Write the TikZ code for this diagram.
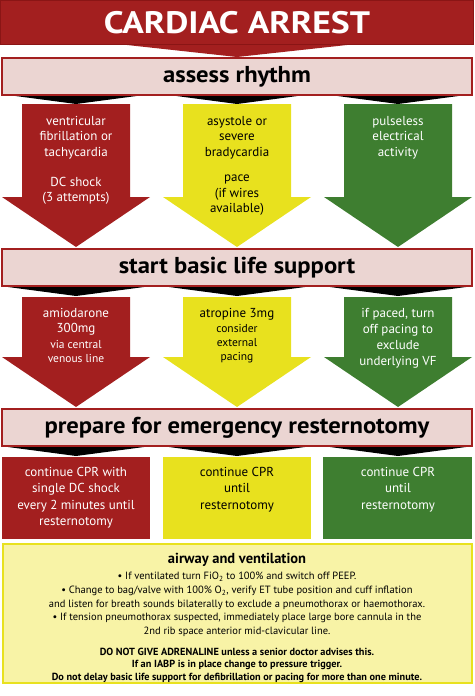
\documentclass[tikz,border=0pt]{standalone}
\usepackage{fontspec}
\setmainfont{PT Sans}
\usetikzlibrary{positioning}

\definecolor{arrestred}{HTML}{A31F1F}
\definecolor{arrestdark}{HTML}{8A1515}
\definecolor{caseyellow}{HTML}{E8E11E}
\definecolor{casegreen}{HTML}{3E7E30}
\definecolor{stepfill}{HTML}{EBD5D2}
\definecolor{notefill}{HTML}{F8F3A6}

\newcommand{\widen}[2]{\scalebox{#1}[1]{#2}}

\tikzset{
  stepbox/.style={draw=arrestred, line width=1.5pt, fill=stepfill, minimum width=470pt,
    minimum height=37pt, inner sep=0pt, font=\bfseries\fontsize{23}{27}\selectfont},
  armtext/.style={anchor=north, inner sep=0pt, align=center, font=\fontsize{13}{15.5}\selectfont},
  smalltext/.style={anchor=north, inner sep=0pt, align=center, font=\fontsize{11.5}{14}\selectfont},
  cprbox/.style={minimum width=148pt, minimum height=82pt, inner sep=0pt},
}

\begin{document}
\begin{tikzpicture}[x=1pt,y=-1pt]
  \useasboundingbox (0,0) rectangle (474,696);

  % title band
  \fill[arrestred] (0,0) rectangle (474,45);
  \fill[arrestred] (127,45) -- (347,45) -- (237,57) -- cycle;
  \draw[arrestdark, line width=1pt] (0.5,0.5) rectangle (473.5,44.5);
  \node[text=white, font=\bfseries\fontsize{31}{36}\selectfont] (title) at (237,22.5) {\widen{1.15}{CARDIAC ARREST}};

  % shadows below the step boxes
  \foreach \yb in {95,287,447}
    \foreach \c in {76,237,398}
      \fill[black] (\c-68,\yb) -- (\c+68,\yb) -- (\c,\yb+9) -- cycle;

  % row arrows
  \foreach \c/\col in {76/arrestred, 237/caseyellow, 398/casegreen}{
    \fill[\col] (\c-54,104) -- (\c+54,104) -- (\c+54,197) -- (\c+74,197) -- (\c,247)
      -- (\c-74,197) -- (\c-54,197) -- cycle;
    \fill[\col] (\c-54,297) -- (\c+54,297) -- (\c+54,357) -- (\c+74,357) -- (\c,407)
      -- (\c-74,357) -- (\c-54,357) -- cycle;
  }

  % step boxes
  \node[stepbox] (assess) at (237,76.5) {\widen{1.07}{assess rhythm}};
  \node[stepbox] (basic) at (237,267.5) {\widen{1.07}{start basic life support}};
  \node[stepbox] (prepare) at (237,427.5) {\widen{1.07}{prepare for emergency resternotomy}};

  % first row
  \node[armtext, text=white] (vf) at (76,116) {ventricular\\fibrillation or\\tachycardia\\[14.5pt]DC shock\\(3 attempts)};
  \node[armtext] (asys) at (237,116) {asystole or\\severe\\bradycardia\\[10pt]pace\\(if wires\\available)};
  \node[armtext, text=white] (pea) at (398,116) {pulseless\\electrical\\activity};

  % second row
  \node[armtext, text=white] (amio) at (76,308) {amiodarone\\300mg};
  \node[smalltext, text=white] (amioroute) at (76,339.7) {via central\\venous line};
  \node[armtext] (atro) at (237,308) {atropine 3mg};
  \node[smalltext] (atropace) at (237,323.7) {consider\\external\\pacing};
  \node[armtext, text=white, font=\fontsize{13}{16}\selectfont] (paced) at (398,308) {if paced, turn\\off pacing to\\exclude\\underlying VF};

  % third row
  \node[cprbox, fill=arrestred] (cprred) at (76,498) {};
  \node[cprbox, fill=caseyellow] (cpryellow) at (237,498) {};
  \node[cprbox, fill=casegreen, minimum width=149pt] (cprgreen) at (397.5,498) {};
  \node[armtext, text=white, font=\fontsize{13}{16.3}\selectfont] (shock) at (76,467) {continue CPR with\\single DC shock\\every 2 minutes until\\resternotomy};
  \node[armtext, font=\fontsize{13}{16.3}\selectfont] (cpr2) at (237,467) {continue CPR\\until\\resternotomy};
  \node[armtext, text=white, font=\fontsize{13}{16.3}\selectfont] (cpr3) at (398,467) {continue CPR\\until\\resternotomy};

  % airway notes
  \node[draw=caseyellow, line width=2pt, fill=notefill, minimum width=469pt, minimum height=139pt] (notes) at (237,613) {};
  \node[font=\bfseries\fontsize{14.5}{17}\selectfont] (airway) at (237,560) {airway and ventilation};
  \node[anchor=north, inner sep=0pt, align=center, font=\fontsize{10.5}{13.75}\selectfont] (bullets) at (237,572) {%
    • If ventilated turn FiO\textsubscript{2} to 100\% and switch off PEEP.\\
    • Change to bag/valve with 100\% O\textsubscript{2}, verify ET tube position and cuff inflation\\
    and listen for breath sounds bilaterally to exclude a pneumothorax or haemothorax.\\
    • If tension pneumothorax suspected, immediately place large bore cannula in the\\
    2nd rib space anterior mid-clavicular line.};
  \node[anchor=north, inner sep=0pt, align=center, font=\bfseries\fontsize{10.3}{12.5}\selectfont] (warnings) at (237,647.5) {%
    DO NOT GIVE ADRENALINE unless a senior doctor advises this.\\
    If an IABP is in place change to pressure trigger.\\
    Do not delay basic life support for defibrillation or pacing for more than one minute.};
\end{tikzpicture}
\end{document}
